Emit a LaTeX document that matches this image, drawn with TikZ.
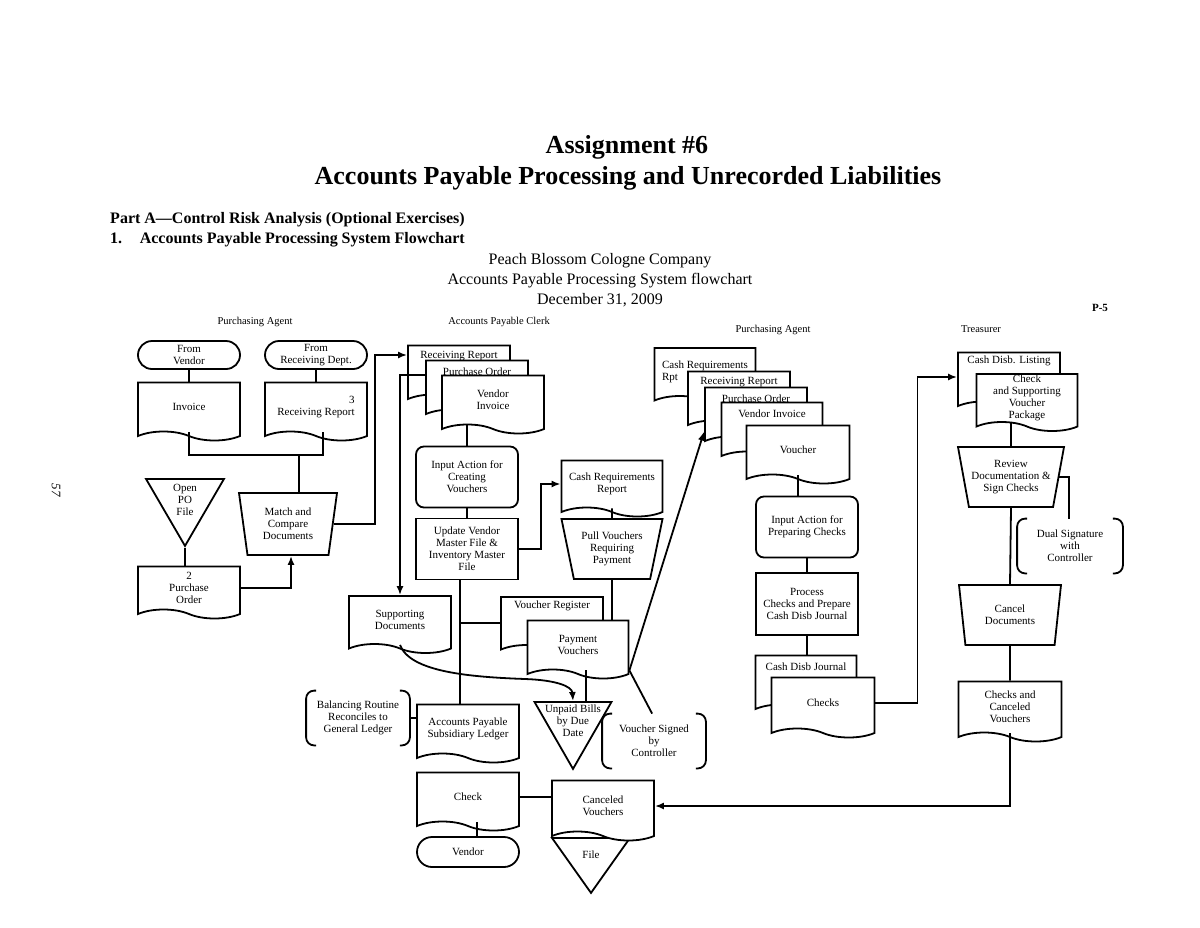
\documentclass[tikz,border=0pt]{standalone}
\usepackage{fontspec}
\setmainfont{Liberation Serif}
\usetikzlibrary{arrows.meta,shapes.geometric,shapes.symbols}

\tikzset{
  doc/.style={draw, fill=white, tape, tape bend top=none, tape bend bottom=out and in,
    tape bend height=9pt, minimum width=102pt, minimum height=58pt, inner sep=1pt, align=center},
  trmnl/.style={draw, fill=white, rectangle, rounded corners=14pt, minimum width=102pt,
    minimum height=28pt, inner sep=1pt, align=center},
  inbox/.style={draw, fill=white, rectangle, rounded corners=8pt, minimum width=102pt,
    minimum height=61pt, inner sep=1pt, align=center},
  procbox/.style={draw, fill=white, rectangle, minimum width=102pt, minimum height=61pt,
    inner sep=1pt, align=center},
  trap/.style={draw, fill=white, trapezium, shape border rotate=180, trapezium stretches body,
    trapezium left angle=72, trapezium right angle=72, minimum width=102pt, minimum height=60pt,
    inner sep=0pt, align=center},
  tri/.style={draw, fill=white, isosceles triangle, shape border rotate=-90,
    isosceles triangle stretches, minimum width=78pt, minimum height=67pt, inner sep=0pt,
    align=center, anchor=lower side},
  annot/.style={minimum width=102pt, minimum height=53pt, inner sep=1pt, align=center},
  lane/.style={font=\fontsize{10.5}{12}\selectfont},
  every label/.style={inner sep=1pt}
}

\begin{document}
\begin{tikzpicture}[x=1pt, y=-1pt, >={Latex[length=9pt,width=7pt]}, line width=1.8pt, font=\fontsize{11}{12}\selectfont]
    \useasboundingbox (0,0) rectangle (1200,927);

    % headings
    \node[font=\fontsize{26}{30}\selectfont\bfseries] (ttl1) at (627,147) {Assignment \#6};
    \node[font=\fontsize{26}{30}\selectfont\bfseries] (ttl2) at (628,178) {Accounts Payable Processing and Unrecorded Liabilities};
    \node[font=\fontsize{16}{18}\selectfont\bfseries, anchor=west] (parta) at (106,220) {Part A---Control Risk Analysis (Optional Exercises)};
    \node[font=\fontsize{16}{18}\selectfont\bfseries, anchor=west] (item1) at (106,240) {1.\hspace{1.1em}Accounts Payable Processing System Flowchart};
    \node[font=\fontsize{16}{19}\selectfont] (co) at (600,261) {Peach Blossom Cologne Company};
    \node[font=\fontsize{16}{19}\selectfont] (sub) at (600,281) {Accounts Payable Processing System flowchart};
    \node[font=\fontsize{16}{19}\selectfont] (date) at (600,300) {December 31, 2009};
    \node[font=\fontsize{11}{13}\selectfont\bfseries] (pg) at (1100,308) {P-5};
    \node[font=\fontsize{13}{15}\selectfont\itshape, rotate=-90] (pgno) at (56,490) {57};

    \node[lane] (laneA) at (255,322) {Purchasing Agent};
    \node[lane] (laneB) at (499,322) {Accounts Payable Clerk};
    \node[lane] (laneC) at (773,330) {Purchasing Agent};
    \node[lane] (laneD) at (981,329) {Treasurer};

    % Purchasing Agent
    \node[trmnl] (fromV) at (189,355) {From\\Vendor};
    \node[trmnl] (fromR) at (316,355) {From\\Receiving Dept.};
    \node[doc] (inv) at (189,407) {Invoice};
    \node[doc, align=right] (rr3) at (316,407) {3\\Receiving Report};
    \node[tri] (opf) at (185,478) {Open\\PO\\File};
    \node[trap, minimum width=98pt, minimum height=62pt, trapezium left angle=75, trapezium right angle=75] (match) at (288,524) {Match and\\Compare\\Documents};
    \node[doc, minimum height=52pt] (po2) at (189,588) {2\\Purchase\\Order};

    % Accounts Payable Clerk
    \node[doc, label={[label distance=-18pt]north:Receiving Report}] (rrA) at (459,370) {};
    \node[doc, label={[label distance=-18pt]north:Purchase Order}] (poA) at (477,385) {};
    \node[doc] (viA) at (493,400) {Vendor\\Invoice};
    \node[inbox] (inA) at (467,477) {Input Action for\\Creating\\Vouchers};
    \node[procbox] (upd) at (467,549) {Update Vendor\\Master File \&\\Inventory Master\\File};
    \node[doc, minimum width=101pt, minimum height=56pt] (crr) at (612,484) {Cash Requirements\\Report};
    \node[trap, minimum width=101pt, trapezium left angle=70, trapezium right angle=70] (pull) at (612,549) {Pull Vouchers\\Requiring\\Payment};
    \node[doc, minimum height=57pt] (supp) at (400,620) {Supporting\\Documents};
    \node[doc, minimum height=57pt, label={[label distance=-17pt]north:Voucher Register}] (vr) at (552,621) {};
    \node[doc, minimum width=101pt] (pv) at (578,645) {Payment\\Vouchers};
    \node[annot] (bal) at (358,718) {Balancing Routine\\Reconciles to\\General Ledger};
    \node[doc] (apl) at (468,729) {Accounts Payable\\Subsidiary Ledger};
    \node[tri, minimum width=77pt, label={[align=center, yshift=3pt]center:Unpaid Bills\\by Due\\Date}] (unp) at (573,701) {};
    \node[annot] (vsc) at (654,741) {Voucher Signed\\by\\Controller};
    \node[doc] (chk) at (468,797) {Check};
    \node[trmnl, minimum height=30pt, rounded corners=15pt] (vend) at (468,852) {Vendor};
    \node[tri, minimum height=55pt] (file) at (591,837) {File};
    \node[doc, minimum height=60pt] (cv) at (603,806) {Canceled\\Vouchers};

    % Purchasing Agent
    \node[doc, minimum width=101pt, minimum height=57pt, align=left] (crB) at (705,372) {Cash Requirements\\Rpt};
    \node[doc, label={[label distance=-18pt]north:Receiving Report}] (rrB) at (739,396) {};
    \node[doc, label={[label distance=-18pt]north:Purchase Order}] (poB) at (756,412) {};
    \node[doc, minimum width=101pt, label={[label distance=-18pt]north:Vendor Invoice}] (viB) at (772,427) {};
    \node[doc, minimum width=103pt] (vch) at (798,450) {Voucher};
    \node[inbox] (ipc) at (807,527) {Input Action for\\Preparing Checks};
    \node[procbox, minimum height=62pt] (proc) at (807,604) {Process\\Checks and Prepare\\Cash Disb Journal};
    \node[doc, minimum width=101pt, label={[label distance=-18pt]north:Cash Disb Journal}] (cdj) at (806,680) {};
    \node[doc, minimum width=103pt, minimum height=60pt] (chks) at (823,703) {Checks};

    % Treasurer
    \node[doc, label={[label distance=-16pt]north:Cash Disb. Listing}] (cdl) at (1009,377) {};
    \node[doc, minimum width=101pt, minimum height=56pt] (csv) at (1027,398) {Check\\and Supporting\\Voucher\\Package};
    \node[trap, minimum width=106pt] (rev) at (1011,477) {Review\\Documentation \&\\Sign Checks};
    \node[annot, minimum width=104pt] (dual) at (1070,546) {Dual Signature\\with\\Controller};
    \node[trap, minimum width=102pt] (can) at (1010,615) {Cancel\\Documents};
    \node[doc, minimum width=103pt, minimum height=60pt] (ccv) at (1010,707) {Checks and\\Canceled\\Vouchers};

    % brackets round the notes
    \foreach \n in {bal,vsc,dual}{
        \draw[rounded corners=8pt] ([xshift=10pt]\n.north west) -- (\n.north west) -- (\n.south west) -- ([xshift=10pt]\n.south west);
        \draw[rounded corners=8pt] ([xshift=-10pt]\n.north east) -- (\n.north east) -- (\n.south east) -- ([xshift=-10pt]\n.south east);
    }

    % flow lines
    \draw (fromV.south) -- (inv.north);
    \draw (fromR.south) -- (rr3.north);
    \coordinate (mj) at (299,455);
    \draw (inv.south) |- (mj) -| ([xshift=7pt]rr3.south);
    \draw (mj) -- (mj |- match.north);
    \draw (opf.apex) -- (opf.apex |- po2.north);
    \draw[->] (po2.east) -| ([xshift=3pt]match.south);
    \coordinate (mr) at (375,355);
    \draw[->] (match.east) -| (mr) -- (mr -| rrA.west);

    \draw[->] ([yshift=-15pt]poA.north west) -| (supp.north);
    \draw (inA.north |- viA.south) -- (inA.north);
    \draw (inA.south) -- (upd.north);
    \draw[->] (upd.east) -- ++(22,0) |- (crr.west);
    \draw (crr.south) -- (pull.north);
    \draw (pull.south) -- (pull.south |- pv.north);
    \coordinate (mv) at (460,623);
    \draw ([xshift=-7pt]upd.south) -- (mv) -- (mv |- apl.north);
    \draw (mv) -- (mv -| vr.west);
    \draw[->] (supp.south) .. controls (410,672) and (470,677) .. (525,679) .. controls (555,680) and (572,686) .. (unp.lower side);
    \draw ([xshift=8pt]pv.south) -- ([xshift=8pt]pv.south |- unp.lower side);
    \draw[->] (pv.south east) -- ([yshift=-45pt]poB.north west);
    \draw (pv.south east) -- ([xshift=50pt]vsc.north west);
    \draw (bal.east) -- (bal.east -| apl.west);
    \draw ([xshift=9pt]chk.south) -- ([xshift=9pt]vend.north);
    \draw (chk.east) -- (chk.east -| cv.west);
    \draw[->] (ccv.south) |- (cv.east);

    \draw (vch.south) -- (vch.south |- ipc.north);
    \draw (ipc.south) -- (proc.north);
    \draw (proc.south) -- (proc.south |- cdj.north);
    \draw[->] (chks.east) -- ++(42,0) |- (cdl.west);

    \draw (rev.north) -- (rev.north |- csv.south);
    \draw (rev.east) -| ([xshift=52pt]dual.north west);
    \draw (rev.south) -- (can.north);
    \draw (can.south) -- (ccv.north);

\end{tikzpicture}
\end{document}
